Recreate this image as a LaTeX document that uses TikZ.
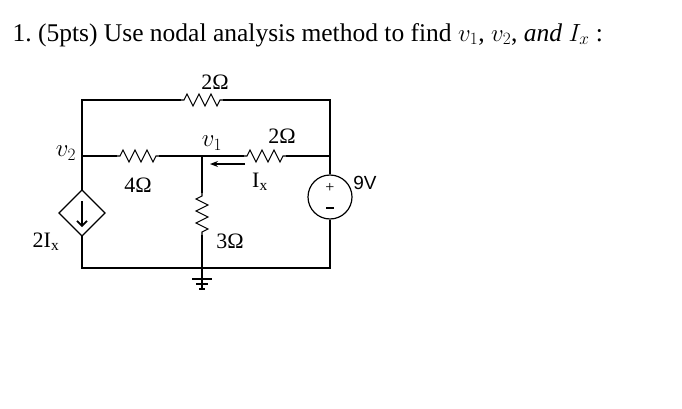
\documentclass[tikz,border=0pt]{standalone}
\usepackage{fontspec}
\setmainfont{Liberation Serif}
\newfontfamily\arialf{Liberation Sans}
\usetikzlibrary{arrows.meta}
\begin{document}
\begin{tikzpicture}[x=1pt,y=-1pt,line width=1.2pt,
  lbl/.style={font=\fontsize{22}{22}\selectfont,inner sep=0pt},
  pics/resh/.style={code={\draw[line width=1.1pt] (-21,0) -- (-18,0) -- (-15,-6) -- (-9,6) -- (-3,-6) -- (3,6) -- (9,-6) -- (15,6) -- (18,0) -- (21,0);}},
  pics/resv/.style={code={\draw[line width=1.1pt] (0,-21) -- (0,-18) -- (-6,-15) -- (6,-9) -- (-6,-3) -- (6,3) -- (-6,9) -- (6,15) -- (0,18) -- (0,21);}}]
\useasboundingbox (0,0) rectangle (682,409);
\node[anchor=west,font=\fontsize{25.5}{25}\selectfont,inner sep=0pt] (title) at (12,35) {1.\ (5pts) Use nodal analysis method to find $v_1$, $v_2$, \textit{and} $I_x$ :};
% coordinates
\coordinate (TL) at (82,100); \coordinate (TR) at (330,100);
\coordinate (ML) at (82,156); \coordinate (MM) at (202,156); \coordinate (MR) at (330,156);
\coordinate (BL) at (82,268); \coordinate (BM) at (202,268); \coordinate (BR) at (330,268);
\coordinate (R1a) at (181,100); \coordinate (R1b) at (223,100);
\coordinate (R2a) at (117,156); \coordinate (R2b) at (159,156);
\coordinate (R3a) at (244,156); \coordinate (R3b) at (286,156);
\coordinate (R4a) at (202,193); \coordinate (R4b) at (202,235);
\coordinate (Dt) at (82,190); \coordinate (Db) at (82,236);
\node[draw,circle,minimum size=44pt,inner sep=0pt] (V) at (330,197) {};
% wires
\draw (R1a) -- (TL) -- (ML) -- (R2a);
\draw (R1b) -- (TR) -- (MR) -- (R3b);
\draw (R2b) -- (MM) -- (R3a);
\draw (MM) -- (R4a); \draw (R4b) -- (BM);
\draw (ML) -- (Dt); \draw (Db) -- (BL) -- (BR) -- (V.south);
\draw (MR) -- (V.north);
\pic at (202,100) {resh}; \pic at (138,156) {resh}; \pic at (265,156) {resh};
\pic at (202,214) {resv};
\draw (Dt) -- (105,213) -- (Db) -- (59,213) -- cycle;
\draw[-{Straight Barb[length=5pt]},line width=1.6pt] (82,201) -- (82,227);
\node[font=\fontsize{16}{16}\selectfont,inner sep=0pt] at (330,188) {+};
\draw (326,208) -- (334,208);
% ground
\draw (BM) -- (202,289);
\draw (192,279) -- (212,279); \draw (196,284) -- (208,284); \draw (199,289) -- (205,289);
% Ix arrow
\draw[-{Stealth[length=8pt]},line width=1.6pt] (245,164) -- (210,164);
% labels
\node[lbl] at (215,82) {2Ω};
\node[lbl] at (282,136) {2Ω};
\node[lbl] at (138,185) {4Ω};
\node[lbl] at (230,241) {3Ω};
\node[lbl] at (260,182) {I\textsubscript{x}};
\node[lbl] at (46,242) {2I\textsubscript{x}};
\node[lbl] at (66,153) {\fontsize{24}{24}\selectfont$v_2$};
\node[lbl] at (212,143) {\fontsize{24}{24}\selectfont$v_1$};
\node[font=\arialf\fontsize{19}{19}\selectfont,inner sep=0pt] at (365,183) {9V};
\end{tikzpicture}
\end{document}
